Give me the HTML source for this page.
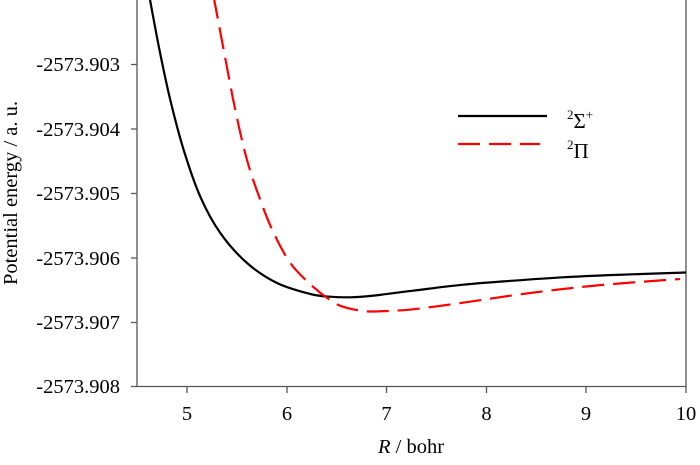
<!DOCTYPE html>
<html><head><meta charset="utf-8"><style>
body{margin:0;background:#fff;}
svg text{font-family:"Liberation Serif",serif;fill:#000;}
</style></head><body>
<svg id="s" width="700" height="460" viewBox="0 0 700 460" xmlns="http://www.w3.org/2000/svg">
<rect x="0" y="0" width="700" height="460" fill="#fff"/>
<g stroke="#555" stroke-width="1.3" fill="none">
<path d="M137,0 V386.5 H686 V0"/>
<path d="M131,64.5 H137 M131,129 H137 M131,193.5 H137 M131,258 H137 M131,322.5 H137 M131,386.5 H137"/>
<path d="M187,386.5 V393 M287,386.5 V393 M386.5,386.5 V393 M486.5,386.5 V393 M586,386.5 V393 M686,386.5 V393"/>
</g>
<g font-size="20.5" text-anchor="end">
<text x="120" y="71">-2573.903</text>
<text x="120" y="136">-2573.904</text>
<text x="120" y="200">-2573.905</text>
<text x="120" y="265">-2573.906</text>
<text x="120" y="329">-2573.907</text>
<text x="120" y="393">-2573.908</text>
</g>
<g font-size="20.5" text-anchor="middle">
<text x="187" y="420">5</text><text x="287" y="420">6</text><text x="386.5" y="420">7</text>
<text x="486.5" y="420">8</text><text x="586" y="420">9</text><text x="686" y="420">10</text>
<text x="411" y="453"><tspan font-style="italic">R</tspan> / bohr</text>
<text transform="translate(17,193) rotate(-90)">Potential energy / a. u.</text>
</g>
<path id="b" fill="none" stroke="#000" stroke-width="2.2"/>
<path id="r" fill="none" stroke="#f00" stroke-width="2.2" stroke-dasharray="22,9"/>
<line x1="458" y1="116" x2="547" y2="116" stroke="#000" stroke-width="2.2"/>
<line x1="458" y1="144" x2="540" y2="144" stroke="#f00" stroke-width="2.2" stroke-dasharray="22,9"/>
<text x="567" y="128" font-size="21"><tspan font-size="13" dy="-9">2</tspan><tspan dy="9">Σ</tspan><tspan font-size="13" dy="-9">+</tspan></text>
<text x="567" y="158" font-size="21"><tspan font-size="13" dy="-9">2</tspan><tspan dy="9">Π</tspan></text>
</svg>
<script>
function cr(p){var d="M"+p[0][0]+","+p[0][1];for(var i=0;i<p.length-1;i++){var p0=p[i-1]||p[i],p1=p[i],p2=p[i+1],p3=p[i+2]||p2;
d+=" C"+(p1[0]+(p2[0]-p0[0])/6)+","+(p1[1]+(p2[1]-p0[1])/6)+" "+(p2[0]-(p3[0]-p1[0])/6)+","+(p2[1]-(p3[1]-p1[1])/6)+" "+p2[0]+","+p2[1];}return d;}
document.getElementById("b").setAttribute("d",cr([[149.5,-3],[159.5,50],[170.3,100],[183.7,150],[200.3,196.7],[220.3,233],[247,263],[277,283],[310.3,294],[330,296.7],[350,297.3],[370,296],[413,290.7],[463,284.7],[513,280.7],[563,277.3],[613,275],[686,272.5]]));
document.getElementById("r").setAttribute("d",cr([[213.7,-3],[223.7,50],[235.3,110],[247,160],[260.3,200],[273.7,233],[290.3,263],[310,284],[330,300],[343,306.7],[363,311],[380,311.3],[413,309.3],[463,302.7],[513,295.3],[563,289],[613,284],[680,279]]));
</script>
</body></html>
